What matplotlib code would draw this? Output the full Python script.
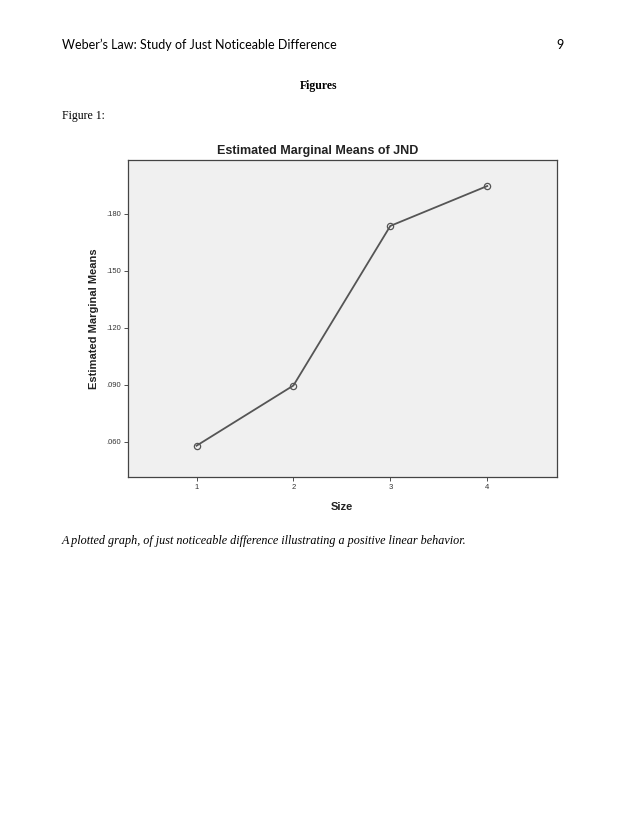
import matplotlib
matplotlib.use("Agg")
import matplotlib.pyplot as plt

# estimated marginal means of JND by size
sizes = [1, 2, 3, 4]
jnd_means = [0.058, 0.0897, 0.1737, 0.1947]
y_ticks = [0.060, 0.090, 0.120, 0.150, 0.180]
y_tick_labels = [".060", ".090", ".120", ".150", ".180"]

header = "Weber\u2019s Law: Study of Just Noticeable Difference"
caption = "A plotted graph, of just noticeable difference illustrating a positive linear behavior."

fig = plt.figure(figsize=(6.38, 8.26), dpi=100)
fig.patch.set_facecolor("white")

# page text
fig.text(62 / 638, 1 - 45 / 826, header, fontsize=9, family="Lato", va="center", ha="left")
fig.text(560 / 638, 1 - 45 / 826, "9", fontsize=9, family="Lato", va="center", ha="center")
fig.text(319 / 638, 1 - 86 / 826, "Figures", fontsize=8.5, family="Liberation Serif",
         weight="bold", va="center", ha="center")
fig.text(62 / 638, 1 - 116 / 826, "Figure 1:", fontsize=8.5, family="Liberation Serif",
         va="center", ha="left")
fig.text(62 / 638, 1 - 541 / 826, caption, fontsize=8.75, family="Liberation Serif",
         style="italic", va="center", ha="left")

# chart title is centred on the whole chart image, not the axes
fig.text(318 / 638, 1 - 151 / 826, "Estimated Marginal Means of JND", fontsize=9,
         family="Liberation Sans", weight="bold", color="#222222", va="center", ha="center")

ax = fig.add_axes([127.7 / 638, 1 - 476.7 / 826, 429.3 / 638, 316.7 / 826])
ax.set_facecolor("#f0f0f0")
ax.plot(sizes, jnd_means, color="#555555", lw=1.3, marker="o", ms=4.5,
        mfc="none", mec="#555555", mew=0.9)

ax.set_xlim(0.29, 4.72)
ax.set_ylim(0.0417, 0.2084)
ax.set_xticks(sizes)
ax.set_xticklabels([str(s) for s in sizes])
ax.set_yticks(y_ticks)
ax.set_yticklabels(y_tick_labels)
ax.tick_params(labelsize=5.5, colors="#333333", length=3, width=0.6, pad=2)
for sp in ax.spines.values():
    sp.set_color("#444444")
    sp.set_linewidth(0.9)

ax.set_xlabel("Size", fontsize=8, family="Liberation Sans", weight="bold",
              color="#222222", labelpad=8)
ax.set_ylabel("Estimated Marginal Means", fontsize=8, family="Liberation Sans",
              weight="bold", color="#222222", labelpad=5)
for lab in ax.get_xticklabels() + ax.get_yticklabels():
    lab.set_family("Liberation Sans")

fig.savefig("out.png", dpi=100)
